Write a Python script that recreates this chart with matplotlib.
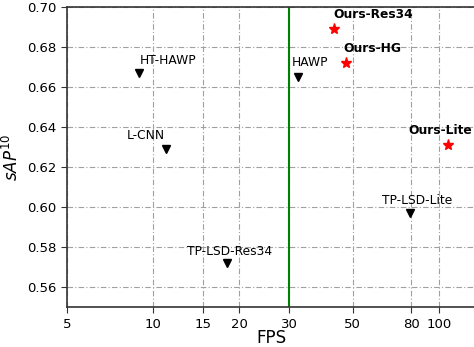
import numpy as np
import matplotlib
matplotlib.use('Agg')
import matplotlib.pyplot as plt

# Métodos de referencia (triángulos negros)
base_names = ['HT-HAWP', 'L-CNN', 'TP-LSD-Res34', 'HAWP', 'TP-LSD-Lite']
base_fps = [8.9, 11.1, 18.1, 32.1, 79.0]
base_sap = [0.667, 0.629, 0.572, 0.665, 0.597]

# Nuestros métodos (estrellas rojas)
ours_names = ['Ours-Res34', 'Ours-HG', 'Ours-Lite']
ours_fps = [42.9, 47.3, 108.0]
ours_sap = [0.689, 0.672, 0.631]

fps_ticks = [5, 10, 15, 20, 30, 50, 80, 100]
sap_ticks = [0.56, 0.58, 0.60, 0.62, 0.64, 0.66, 0.68, 0.70]
realtime_fps = 30

# desplazamiento de cada etiqueta (pixeles) y alineación
base_offsets = [(1, 9, 'left'), (-1, 10, 'right'), (3, 8, 'center'),
                (-6, 11, 'left'), (8, 9, 'center')]
ours_offsets = [(0, 11, 'left'), (-2, 11, 'left'), (-40, 11, 'left')]

fig = plt.figure(figsize=(4.74, 3.47), dpi=100)
ax = fig.add_axes([67 / 474, 39.7 / 347, 409 / 474, 300.6 / 347])

ax.set_xscale('log')
ax.set_xlim(5, 135)
ax.set_ylim(0.55, 0.70)
ax.set_xticks(fps_ticks)
ax.set_xticklabels([str(t) for t in fps_ticks])
ax.xaxis.set_minor_locator(matplotlib.ticker.NullLocator())
ax.set_yticks(sap_ticks)
ax.set_yticklabels(['%.2f' % t for t in sap_ticks])
ax.tick_params(labelsize=9.5, color='#333333', length=4)

ax.grid(True, linestyle=(0, (5, 2, 1, 2)), color='#a0a0a0', linewidth=0.8)
ax.set_axisbelow(True)
for s in ax.spines.values():
    s.set_color('#333333')
    s.set_linewidth(1.2)

ax.axvline(realtime_fps, color='green', linewidth=1.5)

ax.plot(base_fps, base_sap, 'v', color='black', markersize=5.5, linestyle='none')
ax.plot(ours_fps, ours_sap, '*', color='red', markersize=8, linestyle='none')

for name, x, y, (dx, dy, ha) in zip(base_names, base_fps, base_sap, base_offsets):
    ax.annotate(name, (x, y), xytext=(dx, dy), textcoords='offset pixels',
                ha=ha, va='baseline', fontsize=8.8)
for name, x, y, (dx, dy, ha) in zip(ours_names, ours_fps, ours_sap, ours_offsets):
    ax.annotate(name, (x, y), xytext=(dx, dy), textcoords='offset pixels',
                ha=ha, va='baseline', fontsize=8.8, fontweight='bold',
                annotation_clip=False)

ax.set_xlabel('FPS', fontsize=12, labelpad=-1.5)
ax.set_ylabel('$sAP^{10}$', fontsize=12, labelpad=4)

fig.savefig('out.png', dpi=100)
plt.close()
